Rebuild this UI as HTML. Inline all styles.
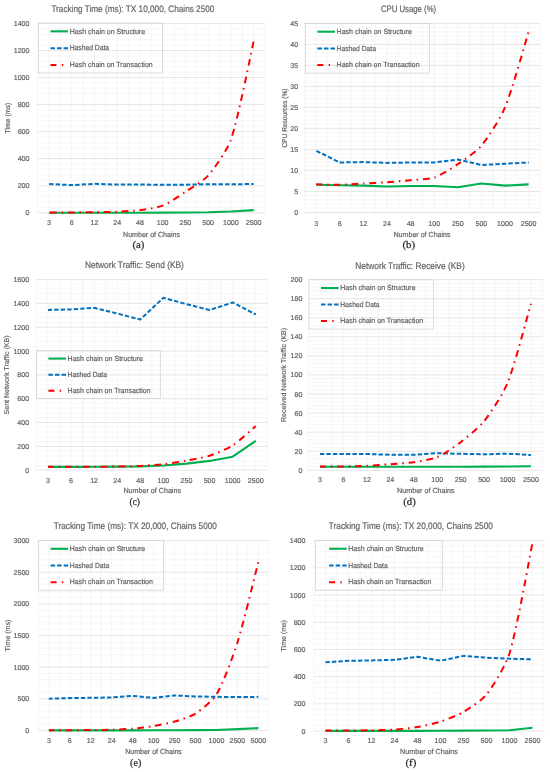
<!DOCTYPE html>
<html><head><meta charset="utf-8"><title>Charts</title>
<style>html,body{margin:0;padding:0;background:#fff;width:550px;height:772px;overflow:hidden}
svg{display:block;font-family:"Liberation Sans",sans-serif;text-rendering:geometricPrecision;will-change:transform;filter:blur(0.3px)}</style></head>
<body>
<svg width="550" height="772" viewBox="0 0 550 772">
<rect width="550" height="772" fill="#fff"/>
<g>
<path d="M37.6,207.39H265M37.6,201.98H265M37.6,196.57H265M37.6,191.17H265M37.6,180.35H265M37.6,174.94H265M37.6,169.53H265M37.6,164.12H265M37.6,153.31H265M37.6,147.9H265M37.6,142.49H265M37.6,137.08H265M37.6,126.26H265M37.6,120.85H265M37.6,115.45H265M37.6,110.04H265M37.6,99.22H265M37.6,93.81H265M37.6,88.4H265M37.6,82.99H265M37.6,72.18H265M37.6,66.77H265M37.6,61.36H265M37.6,55.95H265M37.6,45.13H265M37.6,39.73H265M37.6,34.32H265M37.6,28.91H265" stroke="#F2F2F2" stroke-width="0.6" fill="none"/>
<path d="M48.97,23.5V212.8M71.71,23.5V212.8M94.45,23.5V212.8M117.19,23.5V212.8M139.93,23.5V212.8M162.67,23.5V212.8M185.41,23.5V212.8M208.15,23.5V212.8M230.89,23.5V212.8M253.63,23.5V212.8M37.6,23.5V212.8M60.34,23.5V212.8M83.08,23.5V212.8M105.82,23.5V212.8M128.56,23.5V212.8M151.3,23.5V212.8M174.04,23.5V212.8M196.78,23.5V212.8M219.52,23.5V212.8M242.26,23.5V212.8M265,23.5V212.8" stroke="#F0F0F0" stroke-width="0.6" fill="none"/>
<path d="M37.6,212.8H265M37.6,185.76H265M37.6,158.71H265M37.6,131.67H265M37.6,104.63H265M37.6,77.59H265M37.6,50.54H265M37.6,23.5H265" stroke="#E0E0E0" stroke-width="0.8" fill="none"/>
<text x="51.4" y="11.7" font-size="9.4" font-family="Liberation Sans" fill="#646464" stroke="#646464" stroke-width="0.2" text-anchor="start" textLength="163" lengthAdjust="spacingAndGlyphs">Tracking Time (ms): TX 10,000, Chains 2500</text>
<text x="29.5" y="215.34" font-size="7.1" font-family="Liberation Sans" fill="#646464" stroke="#646464" stroke-width="0.2" text-anchor="end">0</text>
<text x="29.5" y="188.3" font-size="7.1" font-family="Liberation Sans" fill="#646464" stroke="#646464" stroke-width="0.2" text-anchor="end">200</text>
<text x="29.5" y="161.26" font-size="7.1" font-family="Liberation Sans" fill="#646464" stroke="#646464" stroke-width="0.2" text-anchor="end">400</text>
<text x="29.5" y="134.21" font-size="7.1" font-family="Liberation Sans" fill="#646464" stroke="#646464" stroke-width="0.2" text-anchor="end">600</text>
<text x="29.5" y="107.17" font-size="7.1" font-family="Liberation Sans" fill="#646464" stroke="#646464" stroke-width="0.2" text-anchor="end">800</text>
<text x="29.5" y="80.13" font-size="7.1" font-family="Liberation Sans" fill="#646464" stroke="#646464" stroke-width="0.2" text-anchor="end">1000</text>
<text x="29.5" y="53.08" font-size="7.1" font-family="Liberation Sans" fill="#646464" stroke="#646464" stroke-width="0.2" text-anchor="end">1200</text>
<text x="29.5" y="26.04" font-size="7.1" font-family="Liberation Sans" fill="#646464" stroke="#646464" stroke-width="0.2" text-anchor="end">1400</text>
<text x="48.97" y="225.04" font-size="7.1" font-family="Liberation Sans" fill="#646464" stroke="#646464" stroke-width="0.2" text-anchor="middle">3</text>
<text x="71.71" y="225.04" font-size="7.1" font-family="Liberation Sans" fill="#646464" stroke="#646464" stroke-width="0.2" text-anchor="middle">6</text>
<text x="94.45" y="225.04" font-size="7.1" font-family="Liberation Sans" fill="#646464" stroke="#646464" stroke-width="0.2" text-anchor="middle">12</text>
<text x="117.19" y="225.04" font-size="7.1" font-family="Liberation Sans" fill="#646464" stroke="#646464" stroke-width="0.2" text-anchor="middle">24</text>
<text x="139.93" y="225.04" font-size="7.1" font-family="Liberation Sans" fill="#646464" stroke="#646464" stroke-width="0.2" text-anchor="middle">48</text>
<text x="162.67" y="225.04" font-size="7.1" font-family="Liberation Sans" fill="#646464" stroke="#646464" stroke-width="0.2" text-anchor="middle">100</text>
<text x="185.41" y="225.04" font-size="7.1" font-family="Liberation Sans" fill="#646464" stroke="#646464" stroke-width="0.2" text-anchor="middle">250</text>
<text x="208.15" y="225.04" font-size="7.1" font-family="Liberation Sans" fill="#646464" stroke="#646464" stroke-width="0.2" text-anchor="middle">500</text>
<text x="230.89" y="225.04" font-size="7.1" font-family="Liberation Sans" fill="#646464" stroke="#646464" stroke-width="0.2" text-anchor="middle">1000</text>
<text x="253.63" y="225.04" font-size="7.1" font-family="Liberation Sans" fill="#646464" stroke="#646464" stroke-width="0.2" text-anchor="middle">2500</text>
<g transform="translate(10.31,118.15) rotate(-90)"><text x="0" y="0" font-size="7" font-family="Liberation Sans" fill="#646464" stroke="#646464" stroke-width="0.2" text-anchor="middle" textLength="30.7" lengthAdjust="spacingAndGlyphs">Time (ms)</text></g>
<text x="123.1" y="237.05" font-size="7.4" font-family="Liberation Sans" fill="#646464" stroke="#646464" stroke-width="0.2" text-anchor="start" textLength="56.9" lengthAdjust="spacingAndGlyphs">Number of Chains</text>
<text x="132.4" y="247.7" font-size="10.2" font-family="Liberation Serif" fill="#262626" stroke="#262626" stroke-width="0.2" text-anchor="start" textLength="12" lengthAdjust="spacingAndGlyphs" style="stroke-width:0.22px">(a)</text>
<rect x="38.5" y="23" width="124" height="50" fill="none" stroke="#D0D0D0" stroke-width="0.7"/>
<path d="M50.5,31.35H68.1" stroke="#00B050" stroke-width="2.1" fill="none"/>
<text x="69.7" y="33.6" font-size="7.4" font-family="Liberation Sans" fill="#646464" stroke="#646464" stroke-width="0.2" text-anchor="start" textLength="75.4" lengthAdjust="spacingAndGlyphs">Hash chain on Structure</text>
<path d="M50.5,48.15H68.1" stroke="#0070C0" stroke-width="2" stroke-dasharray="4.5 2.05" fill="none"/>
<text x="69.7" y="50.4" font-size="7.4" font-family="Liberation Sans" fill="#646464" stroke="#646464" stroke-width="0.2" text-anchor="start" textLength="39.4" lengthAdjust="spacingAndGlyphs">Hashed Data</text>
<path d="M50.5,64.9H68.1" stroke="#FF0000" stroke-width="2" stroke-dasharray="6 5.3 1.4 5.3" fill="none"/>
<text x="69.7" y="67.15" font-size="7.4" font-family="Liberation Sans" fill="#646464" stroke="#646464" stroke-width="0.2" text-anchor="start" textLength="83" lengthAdjust="spacingAndGlyphs">Hash chain on Transaction</text>
<path d="M48.97,212.8 L71.71,212.8 L94.45,212.8 L117.19,212.8 L139.93,212.8 L162.67,212.66 L185.41,212.53 L208.15,212.26 L230.89,211.45 L253.63,210.1" fill="none" stroke="#00B050" stroke-width="2.1" stroke-linejoin="round"/>
<path id="b0" d="M48.97,184 L71.71,185.08 L94.45,183.86 L117.19,184.54 L139.93,184.54 L162.67,184.81 L185.41,184.68 L208.15,184.27 L230.89,184.27 L253.63,184" fill="none" stroke="#0070C0" stroke-width="2" stroke-dasharray="4.4 2.12" stroke-dashoffset="-0.17" stroke-linejoin="round"/>
<path id="r0" d="M48.97,212.53 C51.7,212.51 66.25,212.43 71.71,212.39 C77.17,212.36 88.99,212.34 94.45,212.26 C99.91,212.18 111.74,211.98 117.19,211.72 C122.65,211.46 134.52,210.82 139.93,210.1 C145.43,209.36 157.59,207.67 162.67,205.63 C168.5,203.29 180.09,195.36 185.41,191.84 C191,188.15 203.82,180.58 208.15,175.62 C214.73,168.08 227.66,149.32 230.89,139.78 C238.57,117.12 250.9,53.28 253.63,41.48" fill="none" stroke="#FF0000" stroke-width="2" stroke-dasharray="6.8 4.75 1.6 4.75" stroke-dashoffset="16.85" stroke-linejoin="round"/>
</g>
<g>
<path d="M304.4,208.3H540.4M304.4,204.1H540.4M304.4,199.89H540.4M304.4,195.69H540.4M304.4,187.29H540.4M304.4,183.08H540.4M304.4,178.88H540.4M304.4,174.68H540.4M304.4,166.28H540.4M304.4,162.07H540.4M304.4,157.87H540.4M304.4,153.67H540.4M304.4,145.26H540.4M304.4,141.06H540.4M304.4,136.86H540.4M304.4,132.66H540.4M304.4,124.25H540.4M304.4,120.05H540.4M304.4,115.85H540.4M304.4,111.65H540.4M304.4,103.24H540.4M304.4,99.04H540.4M304.4,94.84H540.4M304.4,90.64H540.4M304.4,82.23H540.4M304.4,78.03H540.4M304.4,73.83H540.4M304.4,69.62H540.4M304.4,61.22H540.4M304.4,57.02H540.4M304.4,52.82H540.4M304.4,48.61H540.4M304.4,40.21H540.4M304.4,36.01H540.4M304.4,31.8H540.4M304.4,27.6H540.4" stroke="#F2F2F2" stroke-width="0.6" fill="none"/>
<path d="M316.2,23.4V212.5M339.8,23.4V212.5M363.4,23.4V212.5M387,23.4V212.5M410.6,23.4V212.5M434.2,23.4V212.5M457.8,23.4V212.5M481.4,23.4V212.5M505,23.4V212.5M528.6,23.4V212.5M304.4,23.4V212.5M328,23.4V212.5M351.6,23.4V212.5M375.2,23.4V212.5M398.8,23.4V212.5M422.4,23.4V212.5M446,23.4V212.5M469.6,23.4V212.5M493.2,23.4V212.5M516.8,23.4V212.5M540.4,23.4V212.5" stroke="#F0F0F0" stroke-width="0.6" fill="none"/>
<path d="M304.4,212.5H540.4M304.4,191.49H540.4M304.4,170.48H540.4M304.4,149.47H540.4M304.4,128.46H540.4M304.4,107.44H540.4M304.4,86.43H540.4M304.4,65.42H540.4M304.4,44.41H540.4M304.4,23.4H540.4" stroke="#E0E0E0" stroke-width="0.8" fill="none"/>
<text x="380.9" y="12" font-size="9.4" font-family="Liberation Sans" fill="#646464" stroke="#646464" stroke-width="0.2" text-anchor="start" textLength="55.3" lengthAdjust="spacingAndGlyphs">CPU Usage (%)</text>
<text x="298.2" y="215.04" font-size="7.1" font-family="Liberation Sans" fill="#646464" stroke="#646464" stroke-width="0.2" text-anchor="end">0</text>
<text x="298.2" y="194.03" font-size="7.1" font-family="Liberation Sans" fill="#646464" stroke="#646464" stroke-width="0.2" text-anchor="end">5</text>
<text x="298.2" y="173.02" font-size="7.1" font-family="Liberation Sans" fill="#646464" stroke="#646464" stroke-width="0.2" text-anchor="end">10</text>
<text x="298.2" y="152.01" font-size="7.1" font-family="Liberation Sans" fill="#646464" stroke="#646464" stroke-width="0.2" text-anchor="end">15</text>
<text x="298.2" y="131" font-size="7.1" font-family="Liberation Sans" fill="#646464" stroke="#646464" stroke-width="0.2" text-anchor="end">20</text>
<text x="298.2" y="109.99" font-size="7.1" font-family="Liberation Sans" fill="#646464" stroke="#646464" stroke-width="0.2" text-anchor="end">25</text>
<text x="298.2" y="88.98" font-size="7.1" font-family="Liberation Sans" fill="#646464" stroke="#646464" stroke-width="0.2" text-anchor="end">30</text>
<text x="298.2" y="67.96" font-size="7.1" font-family="Liberation Sans" fill="#646464" stroke="#646464" stroke-width="0.2" text-anchor="end">35</text>
<text x="298.2" y="46.95" font-size="7.1" font-family="Liberation Sans" fill="#646464" stroke="#646464" stroke-width="0.2" text-anchor="end">40</text>
<text x="298.2" y="25.94" font-size="7.1" font-family="Liberation Sans" fill="#646464" stroke="#646464" stroke-width="0.2" text-anchor="end">45</text>
<text x="316.2" y="225.74" font-size="7.1" font-family="Liberation Sans" fill="#646464" stroke="#646464" stroke-width="0.2" text-anchor="middle">3</text>
<text x="339.8" y="225.74" font-size="7.1" font-family="Liberation Sans" fill="#646464" stroke="#646464" stroke-width="0.2" text-anchor="middle">6</text>
<text x="363.4" y="225.74" font-size="7.1" font-family="Liberation Sans" fill="#646464" stroke="#646464" stroke-width="0.2" text-anchor="middle">12</text>
<text x="387" y="225.74" font-size="7.1" font-family="Liberation Sans" fill="#646464" stroke="#646464" stroke-width="0.2" text-anchor="middle">24</text>
<text x="410.6" y="225.74" font-size="7.1" font-family="Liberation Sans" fill="#646464" stroke="#646464" stroke-width="0.2" text-anchor="middle">48</text>
<text x="434.2" y="225.74" font-size="7.1" font-family="Liberation Sans" fill="#646464" stroke="#646464" stroke-width="0.2" text-anchor="middle">100</text>
<text x="457.8" y="225.74" font-size="7.1" font-family="Liberation Sans" fill="#646464" stroke="#646464" stroke-width="0.2" text-anchor="middle">250</text>
<text x="481.4" y="225.74" font-size="7.1" font-family="Liberation Sans" fill="#646464" stroke="#646464" stroke-width="0.2" text-anchor="middle">500</text>
<text x="505" y="225.74" font-size="7.1" font-family="Liberation Sans" fill="#646464" stroke="#646464" stroke-width="0.2" text-anchor="middle">1000</text>
<text x="528.6" y="225.74" font-size="7.1" font-family="Liberation Sans" fill="#646464" stroke="#646464" stroke-width="0.2" text-anchor="middle">2500</text>
<g transform="translate(286.51,117.95) rotate(-90)"><text x="0" y="0" font-size="7" font-family="Liberation Sans" fill="#646464" stroke="#646464" stroke-width="0.2" text-anchor="middle" textLength="59" lengthAdjust="spacingAndGlyphs">CPU Resources (%)</text></g>
<text x="393.5" y="237.35" font-size="7.4" font-family="Liberation Sans" fill="#646464" stroke="#646464" stroke-width="0.2" text-anchor="start" textLength="57.1" lengthAdjust="spacingAndGlyphs">Number of Chains</text>
<text x="402.4" y="247.7" font-size="10.2" font-family="Liberation Serif" fill="#262626" stroke="#262626" stroke-width="0.2" text-anchor="start" textLength="12.6" lengthAdjust="spacingAndGlyphs" style="stroke-width:0.22px">(b)</text>
<rect x="305.4" y="23.4" width="124.1" height="49.7" fill="none" stroke="#D0D0D0" stroke-width="0.7"/>
<path d="M317.4,31.7H335" stroke="#00B050" stroke-width="2.1" fill="none"/>
<text x="336.6" y="33.95" font-size="7.4" font-family="Liberation Sans" fill="#646464" stroke="#646464" stroke-width="0.2" text-anchor="start" textLength="75.4" lengthAdjust="spacingAndGlyphs">Hash chain on Structure</text>
<path d="M317.4,48.4H335" stroke="#0070C0" stroke-width="2" stroke-dasharray="4.5 2.05" fill="none"/>
<text x="336.6" y="50.65" font-size="7.4" font-family="Liberation Sans" fill="#646464" stroke="#646464" stroke-width="0.2" text-anchor="start" textLength="39.4" lengthAdjust="spacingAndGlyphs">Hashed Data</text>
<path d="M317.4,65.05H335" stroke="#FF0000" stroke-width="2" stroke-dasharray="6 5.3 1.4 5.3" fill="none"/>
<text x="336.6" y="67.3" font-size="7.4" font-family="Liberation Sans" fill="#646464" stroke="#646464" stroke-width="0.2" text-anchor="start" textLength="83" lengthAdjust="spacingAndGlyphs">Hash chain on Transaction</text>
<path d="M316.2,184.77 L339.8,185.19 L363.4,185.61 L387,186.45 L410.6,186.03 L434.2,186.03 L457.8,187.29 L481.4,183.5 L505,185.61 L528.6,184.35" fill="none" stroke="#00B050" stroke-width="2.1" stroke-linejoin="round"/>
<path id="b1" d="M316.2,150.73 L339.8,162.49 L363.4,162.07 L387,162.91 L410.6,162.49 L434.2,162.49 L457.8,159.55 L481.4,165.01 L505,163.75 L528.6,162.49" fill="none" stroke="#0070C0" stroke-width="2" stroke-dasharray="4.4 2.12" stroke-dashoffset="-0.24" stroke-linejoin="round"/>
<path id="r1" d="M316.2,184.35 C319.03,184.4 334.14,184.87 339.8,184.77 C345.47,184.66 357.74,183.81 363.4,183.5 C369.06,183.2 381.34,182.65 387,182.24 C392.67,181.84 404.94,180.7 410.6,180.14 C416.27,179.59 428.92,179.41 434.2,177.62 C440.25,175.58 452.42,167.82 457.8,164.17 C463.74,160.15 476.87,151.13 481.4,145.68 C488.19,137.52 500.9,117.34 505,107.44 C512.23,90 525.77,40.88 528.6,31.8" fill="none" stroke="#FF0000" stroke-width="2" stroke-dasharray="6.8 4.75 1.6 4.75" stroke-dashoffset="0.45" stroke-linejoin="round"/>
</g>
<g>
<path d="M36.4,465.44H267.3M36.4,460.67H267.3M36.4,455.9H267.3M36.4,451.14H267.3M36.4,441.61H267.3M36.4,436.84H267.3M36.4,432.08H267.3M36.4,427.31H267.3M36.4,417.79H267.3M36.4,413.02H267.3M36.4,408.25H267.3M36.4,403.49H267.3M36.4,393.96H267.3M36.4,389.19H267.3M36.4,384.43H267.3M36.4,379.67H267.3M36.4,370.13H267.3M36.4,365.37H267.3M36.4,360.61H267.3M36.4,355.84H267.3M36.4,346.31H267.3M36.4,341.55H267.3M36.4,336.78H267.3M36.4,332.01H267.3M36.4,322.49H267.3M36.4,317.72H267.3M36.4,312.96H267.3M36.4,308.19H267.3M36.4,298.66H267.3M36.4,293.89H267.3M36.4,289.13H267.3M36.4,284.37H267.3" stroke="#F2F2F2" stroke-width="0.6" fill="none"/>
<path d="M47.95,279.6V470.2M71.03,279.6V470.2M94.12,279.6V470.2M117.22,279.6V470.2M140.31,279.6V470.2M163.4,279.6V470.2M186.49,279.6V470.2M209.58,279.6V470.2M232.66,279.6V470.2M255.75,279.6V470.2M36.4,279.6V470.2M59.49,279.6V470.2M82.58,279.6V470.2M105.67,279.6V470.2M128.76,279.6V470.2M151.85,279.6V470.2M174.94,279.6V470.2M198.03,279.6V470.2M221.12,279.6V470.2M244.21,279.6V470.2M267.3,279.6V470.2" stroke="#F0F0F0" stroke-width="0.6" fill="none"/>
<path d="M36.4,470.2H267.3M36.4,446.38H267.3M36.4,422.55H267.3M36.4,398.73H267.3M36.4,374.9H267.3M36.4,351.08H267.3M36.4,327.25H267.3M36.4,303.43H267.3M36.4,279.6H267.3" stroke="#E0E0E0" stroke-width="0.8" fill="none"/>
<text x="85" y="268.2" font-size="9.4" font-family="Liberation Sans" fill="#646464" stroke="#646464" stroke-width="0.2" text-anchor="start" textLength="98.9" lengthAdjust="spacingAndGlyphs">Network Traffic: Send (KB)</text>
<text x="29.2" y="472.74" font-size="7.1" font-family="Liberation Sans" fill="#646464" stroke="#646464" stroke-width="0.2" text-anchor="end">0</text>
<text x="29.2" y="448.92" font-size="7.1" font-family="Liberation Sans" fill="#646464" stroke="#646464" stroke-width="0.2" text-anchor="end">200</text>
<text x="29.2" y="425.09" font-size="7.1" font-family="Liberation Sans" fill="#646464" stroke="#646464" stroke-width="0.2" text-anchor="end">400</text>
<text x="29.2" y="401.27" font-size="7.1" font-family="Liberation Sans" fill="#646464" stroke="#646464" stroke-width="0.2" text-anchor="end">600</text>
<text x="29.2" y="377.44" font-size="7.1" font-family="Liberation Sans" fill="#646464" stroke="#646464" stroke-width="0.2" text-anchor="end">800</text>
<text x="29.2" y="353.62" font-size="7.1" font-family="Liberation Sans" fill="#646464" stroke="#646464" stroke-width="0.2" text-anchor="end">1000</text>
<text x="29.2" y="329.79" font-size="7.1" font-family="Liberation Sans" fill="#646464" stroke="#646464" stroke-width="0.2" text-anchor="end">1200</text>
<text x="29.2" y="305.97" font-size="7.1" font-family="Liberation Sans" fill="#646464" stroke="#646464" stroke-width="0.2" text-anchor="end">1400</text>
<text x="29.2" y="282.14" font-size="7.1" font-family="Liberation Sans" fill="#646464" stroke="#646464" stroke-width="0.2" text-anchor="end">1600</text>
<text x="47.95" y="482.54" font-size="7.1" font-family="Liberation Sans" fill="#646464" stroke="#646464" stroke-width="0.2" text-anchor="middle">3</text>
<text x="71.03" y="482.54" font-size="7.1" font-family="Liberation Sans" fill="#646464" stroke="#646464" stroke-width="0.2" text-anchor="middle">6</text>
<text x="94.12" y="482.54" font-size="7.1" font-family="Liberation Sans" fill="#646464" stroke="#646464" stroke-width="0.2" text-anchor="middle">12</text>
<text x="117.22" y="482.54" font-size="7.1" font-family="Liberation Sans" fill="#646464" stroke="#646464" stroke-width="0.2" text-anchor="middle">24</text>
<text x="140.31" y="482.54" font-size="7.1" font-family="Liberation Sans" fill="#646464" stroke="#646464" stroke-width="0.2" text-anchor="middle">48</text>
<text x="163.4" y="482.54" font-size="7.1" font-family="Liberation Sans" fill="#646464" stroke="#646464" stroke-width="0.2" text-anchor="middle">100</text>
<text x="186.49" y="482.54" font-size="7.1" font-family="Liberation Sans" fill="#646464" stroke="#646464" stroke-width="0.2" text-anchor="middle">250</text>
<text x="209.58" y="482.54" font-size="7.1" font-family="Liberation Sans" fill="#646464" stroke="#646464" stroke-width="0.2" text-anchor="middle">500</text>
<text x="232.66" y="482.54" font-size="7.1" font-family="Liberation Sans" fill="#646464" stroke="#646464" stroke-width="0.2" text-anchor="middle">1000</text>
<text x="255.75" y="482.54" font-size="7.1" font-family="Liberation Sans" fill="#646464" stroke="#646464" stroke-width="0.2" text-anchor="middle">2500</text>
<g transform="translate(9.01,374.9) rotate(-90)"><text x="0" y="0" font-size="7" font-family="Liberation Sans" fill="#646464" stroke="#646464" stroke-width="0.2" text-anchor="middle" textLength="79" lengthAdjust="spacingAndGlyphs">Sent Network Traffic (KB)</text></g>
<text x="123.4" y="493.05" font-size="7.4" font-family="Liberation Sans" fill="#646464" stroke="#646464" stroke-width="0.2" text-anchor="start" textLength="57.6" lengthAdjust="spacingAndGlyphs">Number of Chains</text>
<text x="129.6" y="504.6" font-size="10.2" font-family="Liberation Serif" fill="#262626" stroke="#262626" stroke-width="0.2" text-anchor="start" textLength="10.4" lengthAdjust="spacingAndGlyphs" style="stroke-width:0.22px">(c)</text>
<rect x="36.4" y="350.6" width="123.9" height="47.8" fill="none" stroke="#D0D0D0" stroke-width="0.7"/>
<path d="M48.4,358.58H66" stroke="#00B050" stroke-width="2.1" fill="none"/>
<text x="67.6" y="360.83" font-size="7.4" font-family="Liberation Sans" fill="#646464" stroke="#646464" stroke-width="0.2" text-anchor="start" textLength="75.4" lengthAdjust="spacingAndGlyphs">Hash chain on Structure</text>
<path d="M48.4,374.64H66" stroke="#0070C0" stroke-width="2" stroke-dasharray="4.5 2.05" fill="none"/>
<text x="67.6" y="376.89" font-size="7.4" font-family="Liberation Sans" fill="#646464" stroke="#646464" stroke-width="0.2" text-anchor="start" textLength="39.4" lengthAdjust="spacingAndGlyphs">Hashed Data</text>
<path d="M48.4,390.66H66" stroke="#FF0000" stroke-width="2" stroke-dasharray="6 5.3 1.4 5.3" fill="none"/>
<text x="67.6" y="392.91" font-size="7.4" font-family="Liberation Sans" fill="#646464" stroke="#646464" stroke-width="0.2" text-anchor="start" textLength="83" lengthAdjust="spacingAndGlyphs">Hash chain on Transaction</text>
<path d="M47.95,466.86 L71.03,466.86 L94.12,466.75 L117.22,466.63 L140.31,466.39 L163.4,465.44 L186.49,463.65 L209.58,460.91 L232.66,456.74 L255.75,440.9" fill="none" stroke="#00B050" stroke-width="2.1" stroke-linejoin="round"/>
<path id="b2" d="M47.95,309.98 L71.03,309.38 L94.12,307.83 L117.22,313.55 L140.31,319.51 L163.4,297.83 L186.49,304.14 L209.58,309.98 L232.66,302.47 L255.75,314.5" fill="none" stroke="#0070C0" stroke-width="2" stroke-dasharray="4.4 2.12" stroke-dashoffset="0.3" stroke-linejoin="round"/>
<path id="r2" d="M47.95,466.86 C50.72,466.86 65.49,466.88 71.03,466.86 C76.58,466.85 88.58,466.79 94.12,466.75 C99.67,466.7 111.67,466.61 117.22,466.51 C122.76,466.41 134.77,466.18 140.31,465.91 C145.85,465.64 157.88,464.87 163.4,464.24 C168.96,463.61 180.97,461.68 186.49,460.67 C192.05,459.65 204.23,457.55 209.58,455.79 C215.31,453.89 227.6,448.67 232.66,445.42 C238.69,441.56 252.98,428.44 255.75,426.12" fill="none" stroke="#FF0000" stroke-width="2" stroke-dasharray="6.8 4.75 1.6 4.75" stroke-dashoffset="0.9" stroke-linejoin="round"/>
</g>
<g>
<path d="M308.3,466.49H542.7M308.3,462.67H542.7M308.3,458.86H542.7M308.3,455.04H542.7M308.3,447.42H542.7M308.3,443.6H542.7M308.3,439.79H542.7M308.3,435.97H542.7M308.3,428.35H542.7M308.3,424.53H542.7M308.3,420.72H542.7M308.3,416.9H542.7M308.3,409.28H542.7M308.3,405.46H542.7M308.3,401.65H542.7M308.3,397.83H542.7M308.3,390.21H542.7M308.3,386.39H542.7M308.3,382.58H542.7M308.3,378.76H542.7M308.3,371.14H542.7M308.3,367.32H542.7M308.3,363.51H542.7M308.3,359.69H542.7M308.3,352.07H542.7M308.3,348.25H542.7M308.3,344.44H542.7M308.3,340.62H542.7M308.3,333H542.7M308.3,329.18H542.7M308.3,325.37H542.7M308.3,321.55H542.7M308.3,313.93H542.7M308.3,310.11H542.7M308.3,306.3H542.7M308.3,302.48H542.7M308.3,294.86H542.7M308.3,291.04H542.7M308.3,287.23H542.7M308.3,283.41H542.7" stroke="#F2F2F2" stroke-width="0.6" fill="none"/>
<path d="M320.02,279.6V470.3M343.46,279.6V470.3M366.9,279.6V470.3M390.34,279.6V470.3M413.78,279.6V470.3M437.22,279.6V470.3M460.66,279.6V470.3M484.1,279.6V470.3M507.54,279.6V470.3M530.98,279.6V470.3M308.3,279.6V470.3M331.74,279.6V470.3M355.18,279.6V470.3M378.62,279.6V470.3M402.06,279.6V470.3M425.5,279.6V470.3M448.94,279.6V470.3M472.38,279.6V470.3M495.82,279.6V470.3M519.26,279.6V470.3M542.7,279.6V470.3" stroke="#F0F0F0" stroke-width="0.6" fill="none"/>
<path d="M308.3,470.3H542.7M308.3,451.23H542.7M308.3,432.16H542.7M308.3,413.09H542.7M308.3,394.02H542.7M308.3,374.95H542.7M308.3,355.88H542.7M308.3,336.81H542.7M308.3,317.74H542.7M308.3,298.67H542.7M308.3,279.6H542.7" stroke="#E0E0E0" stroke-width="0.8" fill="none"/>
<text x="355.3" y="269" font-size="9.4" font-family="Liberation Sans" fill="#646464" stroke="#646464" stroke-width="0.2" text-anchor="start" textLength="109.4" lengthAdjust="spacingAndGlyphs">Network Traffic: Receive (KB)</text>
<text x="302.4" y="472.84" font-size="7.1" font-family="Liberation Sans" fill="#646464" stroke="#646464" stroke-width="0.2" text-anchor="end">0</text>
<text x="302.4" y="453.77" font-size="7.1" font-family="Liberation Sans" fill="#646464" stroke="#646464" stroke-width="0.2" text-anchor="end">20</text>
<text x="302.4" y="434.7" font-size="7.1" font-family="Liberation Sans" fill="#646464" stroke="#646464" stroke-width="0.2" text-anchor="end">40</text>
<text x="302.4" y="415.63" font-size="7.1" font-family="Liberation Sans" fill="#646464" stroke="#646464" stroke-width="0.2" text-anchor="end">60</text>
<text x="302.4" y="396.56" font-size="7.1" font-family="Liberation Sans" fill="#646464" stroke="#646464" stroke-width="0.2" text-anchor="end">80</text>
<text x="302.4" y="377.49" font-size="7.1" font-family="Liberation Sans" fill="#646464" stroke="#646464" stroke-width="0.2" text-anchor="end">100</text>
<text x="302.4" y="358.42" font-size="7.1" font-family="Liberation Sans" fill="#646464" stroke="#646464" stroke-width="0.2" text-anchor="end">120</text>
<text x="302.4" y="339.35" font-size="7.1" font-family="Liberation Sans" fill="#646464" stroke="#646464" stroke-width="0.2" text-anchor="end">140</text>
<text x="302.4" y="320.28" font-size="7.1" font-family="Liberation Sans" fill="#646464" stroke="#646464" stroke-width="0.2" text-anchor="end">160</text>
<text x="302.4" y="301.21" font-size="7.1" font-family="Liberation Sans" fill="#646464" stroke="#646464" stroke-width="0.2" text-anchor="end">180</text>
<text x="302.4" y="282.14" font-size="7.1" font-family="Liberation Sans" fill="#646464" stroke="#646464" stroke-width="0.2" text-anchor="end">200</text>
<text x="320.02" y="481.84" font-size="7.1" font-family="Liberation Sans" fill="#646464" stroke="#646464" stroke-width="0.2" text-anchor="middle">3</text>
<text x="343.46" y="481.84" font-size="7.1" font-family="Liberation Sans" fill="#646464" stroke="#646464" stroke-width="0.2" text-anchor="middle">6</text>
<text x="366.9" y="481.84" font-size="7.1" font-family="Liberation Sans" fill="#646464" stroke="#646464" stroke-width="0.2" text-anchor="middle">12</text>
<text x="390.34" y="481.84" font-size="7.1" font-family="Liberation Sans" fill="#646464" stroke="#646464" stroke-width="0.2" text-anchor="middle">24</text>
<text x="413.78" y="481.84" font-size="7.1" font-family="Liberation Sans" fill="#646464" stroke="#646464" stroke-width="0.2" text-anchor="middle">48</text>
<text x="437.22" y="481.84" font-size="7.1" font-family="Liberation Sans" fill="#646464" stroke="#646464" stroke-width="0.2" text-anchor="middle">100</text>
<text x="460.66" y="481.84" font-size="7.1" font-family="Liberation Sans" fill="#646464" stroke="#646464" stroke-width="0.2" text-anchor="middle">250</text>
<text x="484.1" y="481.84" font-size="7.1" font-family="Liberation Sans" fill="#646464" stroke="#646464" stroke-width="0.2" text-anchor="middle">500</text>
<text x="507.54" y="481.84" font-size="7.1" font-family="Liberation Sans" fill="#646464" stroke="#646464" stroke-width="0.2" text-anchor="middle">1000</text>
<text x="530.98" y="481.84" font-size="7.1" font-family="Liberation Sans" fill="#646464" stroke="#646464" stroke-width="0.2" text-anchor="middle">2500</text>
<g transform="translate(285.71,374.95) rotate(-90)"><text x="0" y="0" font-size="7" font-family="Liberation Sans" fill="#646464" stroke="#646464" stroke-width="0.2" text-anchor="middle" textLength="94.2" lengthAdjust="spacingAndGlyphs">Received Network Traffic (KB)</text></g>
<text x="397.1" y="492.55" font-size="7.4" font-family="Liberation Sans" fill="#646464" stroke="#646464" stroke-width="0.2" text-anchor="start" textLength="57.5" lengthAdjust="spacingAndGlyphs">Number of Chains</text>
<text x="403.3" y="504.7" font-size="10.2" font-family="Liberation Serif" fill="#262626" stroke="#262626" stroke-width="0.2" text-anchor="start" textLength="12.5" lengthAdjust="spacingAndGlyphs" style="stroke-width:0.22px">(d)</text>
<rect x="309" y="279.8" width="124.5" height="49.3" fill="none" stroke="#D0D0D0" stroke-width="0.7"/>
<path d="M321,288.03H338.6" stroke="#00B050" stroke-width="2.1" fill="none"/>
<text x="340.2" y="290.28" font-size="7.4" font-family="Liberation Sans" fill="#646464" stroke="#646464" stroke-width="0.2" text-anchor="start" textLength="75.4" lengthAdjust="spacingAndGlyphs">Hash chain on Structure</text>
<path d="M321,304.6H338.6" stroke="#0070C0" stroke-width="2" stroke-dasharray="4.5 2.05" fill="none"/>
<text x="340.2" y="306.85" font-size="7.4" font-family="Liberation Sans" fill="#646464" stroke="#646464" stroke-width="0.2" text-anchor="start" textLength="39.4" lengthAdjust="spacingAndGlyphs">Hashed Data</text>
<path d="M321,321.11H338.6" stroke="#FF0000" stroke-width="2" stroke-dasharray="6 5.3 1.4 5.3" fill="none"/>
<text x="340.2" y="323.36" font-size="7.4" font-family="Liberation Sans" fill="#646464" stroke="#646464" stroke-width="0.2" text-anchor="start" textLength="83" lengthAdjust="spacingAndGlyphs">Hash chain on Transaction</text>
<path d="M320.02,466.77 L343.46,466.77 L366.9,466.77 L390.34,466.77 L413.78,466.77 L437.22,466.77 L460.66,466.68 L484.1,466.58 L507.54,466.49 L530.98,466.3" fill="none" stroke="#00B050" stroke-width="2.1" stroke-linejoin="round"/>
<path id="b3" d="M320.02,454 L343.46,454 L366.9,454 L390.34,454.76 L413.78,454.76 L437.22,453.14 L460.66,453.8 L484.1,454.28 L507.54,453.61 L530.98,455.04" fill="none" stroke="#0070C0" stroke-width="2" stroke-dasharray="4.4 2.12" stroke-dashoffset="0.15" stroke-linejoin="round"/>
<path id="r3" d="M320.02,466.49 C322.83,466.49 337.84,466.58 343.46,466.49 C349.09,466.39 361.28,466 366.9,465.72 C372.53,465.45 384.72,464.62 390.34,464.2 C395.97,463.77 408.21,463.03 413.78,462.2 C419.46,461.34 432.01,459.37 437.22,457.14 C443.26,454.56 455.38,446.22 460.66,442.17 C466.63,437.59 479.46,427.05 484.1,421.19 C490.71,412.86 503.59,392.95 507.54,383.05 C514.84,364.76 528.17,313.24 530.98,303.72" fill="none" stroke="#FF0000" stroke-width="2" stroke-dasharray="6.8 4.75 1.6 4.75" stroke-dashoffset="0.8" stroke-linejoin="round"/>
</g>
<g>
<path d="M38.4,724.07H268.8M38.4,717.75H268.8M38.4,711.42H268.8M38.4,705.09H268.8M38.4,692.44H268.8M38.4,686.11H268.8M38.4,679.79H268.8M38.4,673.46H268.8M38.4,660.81H268.8M38.4,654.48H268.8M38.4,648.15H268.8M38.4,641.83H268.8M38.4,629.17H268.8M38.4,622.85H268.8M38.4,616.52H268.8M38.4,610.19H268.8M38.4,597.54H268.8M38.4,591.21H268.8M38.4,584.89H268.8M38.4,578.56H268.8M38.4,565.91H268.8M38.4,559.58H268.8M38.4,553.25H268.8M38.4,546.93H268.8" stroke="#F2F2F2" stroke-width="0.6" fill="none"/>
<path d="M48.87,540.6V730.4M69.82,540.6V730.4M90.76,540.6V730.4M111.71,540.6V730.4M132.65,540.6V730.4M153.6,540.6V730.4M174.55,540.6V730.4M195.49,540.6V730.4M216.44,540.6V730.4M237.38,540.6V730.4M258.33,540.6V730.4M38.4,540.6V730.4M59.35,540.6V730.4M80.29,540.6V730.4M101.24,540.6V730.4M122.18,540.6V730.4M143.13,540.6V730.4M164.07,540.6V730.4M185.02,540.6V730.4M205.96,540.6V730.4M226.91,540.6V730.4M247.85,540.6V730.4M268.8,540.6V730.4" stroke="#F0F0F0" stroke-width="0.6" fill="none"/>
<path d="M38.4,730.4H268.8M38.4,698.77H268.8M38.4,667.13H268.8M38.4,635.5H268.8M38.4,603.87H268.8M38.4,572.23H268.8M38.4,540.6H268.8" stroke="#E0E0E0" stroke-width="0.8" fill="none"/>
<text x="53.8" y="528.8" font-size="9.4" font-family="Liberation Sans" fill="#646464" stroke="#646464" stroke-width="0.2" text-anchor="start" textLength="163.1" lengthAdjust="spacingAndGlyphs">Tracking Time (ms): TX 20,000, Chains 5000</text>
<text x="29.3" y="732.94" font-size="7.1" font-family="Liberation Sans" fill="#646464" stroke="#646464" stroke-width="0.2" text-anchor="end">0</text>
<text x="29.3" y="701.31" font-size="7.1" font-family="Liberation Sans" fill="#646464" stroke="#646464" stroke-width="0.2" text-anchor="end">500</text>
<text x="29.3" y="669.68" font-size="7.1" font-family="Liberation Sans" fill="#646464" stroke="#646464" stroke-width="0.2" text-anchor="end">1000</text>
<text x="29.3" y="638.04" font-size="7.1" font-family="Liberation Sans" fill="#646464" stroke="#646464" stroke-width="0.2" text-anchor="end">1500</text>
<text x="29.3" y="606.41" font-size="7.1" font-family="Liberation Sans" fill="#646464" stroke="#646464" stroke-width="0.2" text-anchor="end">2000</text>
<text x="29.3" y="574.78" font-size="7.1" font-family="Liberation Sans" fill="#646464" stroke="#646464" stroke-width="0.2" text-anchor="end">2500</text>
<text x="29.3" y="543.14" font-size="7.1" font-family="Liberation Sans" fill="#646464" stroke="#646464" stroke-width="0.2" text-anchor="end">3000</text>
<text x="48.87" y="742.94" font-size="7.1" font-family="Liberation Sans" fill="#646464" stroke="#646464" stroke-width="0.2" text-anchor="middle">3</text>
<text x="69.82" y="742.94" font-size="7.1" font-family="Liberation Sans" fill="#646464" stroke="#646464" stroke-width="0.2" text-anchor="middle">6</text>
<text x="90.76" y="742.94" font-size="7.1" font-family="Liberation Sans" fill="#646464" stroke="#646464" stroke-width="0.2" text-anchor="middle">12</text>
<text x="111.71" y="742.94" font-size="7.1" font-family="Liberation Sans" fill="#646464" stroke="#646464" stroke-width="0.2" text-anchor="middle">24</text>
<text x="132.65" y="742.94" font-size="7.1" font-family="Liberation Sans" fill="#646464" stroke="#646464" stroke-width="0.2" text-anchor="middle">48</text>
<text x="153.6" y="742.94" font-size="7.1" font-family="Liberation Sans" fill="#646464" stroke="#646464" stroke-width="0.2" text-anchor="middle">100</text>
<text x="174.55" y="742.94" font-size="7.1" font-family="Liberation Sans" fill="#646464" stroke="#646464" stroke-width="0.2" text-anchor="middle">250</text>
<text x="195.49" y="742.94" font-size="7.1" font-family="Liberation Sans" fill="#646464" stroke="#646464" stroke-width="0.2" text-anchor="middle">500</text>
<text x="216.44" y="742.94" font-size="7.1" font-family="Liberation Sans" fill="#646464" stroke="#646464" stroke-width="0.2" text-anchor="middle">1000</text>
<text x="237.38" y="742.94" font-size="7.1" font-family="Liberation Sans" fill="#646464" stroke="#646464" stroke-width="0.2" text-anchor="middle">2500</text>
<text x="258.33" y="742.94" font-size="7.1" font-family="Liberation Sans" fill="#646464" stroke="#646464" stroke-width="0.2" text-anchor="middle">5000</text>
<g transform="translate(10.01,635.5) rotate(-90)"><text x="0" y="0" font-size="7" font-family="Liberation Sans" fill="#646464" stroke="#646464" stroke-width="0.2" text-anchor="middle" textLength="32" lengthAdjust="spacingAndGlyphs">Time (ms)</text></g>
<text x="125.2" y="753.85" font-size="7.4" font-family="Liberation Sans" fill="#646464" stroke="#646464" stroke-width="0.2" text-anchor="start" textLength="56.7" lengthAdjust="spacingAndGlyphs">Number of Chains</text>
<text x="130" y="766.2" font-size="10.2" font-family="Liberation Serif" fill="#262626" stroke="#262626" stroke-width="0.2" text-anchor="start" textLength="11.3" lengthAdjust="spacingAndGlyphs" style="stroke-width:0.22px">(e)</text>
<rect x="38.6" y="540.5" width="125" height="49.7" fill="none" stroke="#D0D0D0" stroke-width="0.7"/>
<path d="M50.6,548.8H68.2" stroke="#00B050" stroke-width="2.1" fill="none"/>
<text x="69.8" y="551.05" font-size="7.4" font-family="Liberation Sans" fill="#646464" stroke="#646464" stroke-width="0.2" text-anchor="start" textLength="75.4" lengthAdjust="spacingAndGlyphs">Hash chain on Structure</text>
<path d="M50.6,565.5H68.2" stroke="#0070C0" stroke-width="2" stroke-dasharray="4.5 2.05" fill="none"/>
<text x="69.8" y="567.75" font-size="7.4" font-family="Liberation Sans" fill="#646464" stroke="#646464" stroke-width="0.2" text-anchor="start" textLength="39.4" lengthAdjust="spacingAndGlyphs">Hashed Data</text>
<path d="M50.6,582.15H68.2" stroke="#FF0000" stroke-width="2" stroke-dasharray="6 5.3 1.4 5.3" fill="none"/>
<text x="69.8" y="584.4" font-size="7.4" font-family="Liberation Sans" fill="#646464" stroke="#646464" stroke-width="0.2" text-anchor="start" textLength="83" lengthAdjust="spacingAndGlyphs">Hash chain on Transaction</text>
<path d="M48.87,730.34 L69.82,730.34 L90.76,730.34 L111.71,730.34 L132.65,730.34 L153.6,730.27 L174.55,730.21 L195.49,730.15 L216.44,730.02 L237.38,729.13 L258.33,728.12" fill="none" stroke="#00B050" stroke-width="2.1" stroke-linejoin="round"/>
<path id="b4" d="M48.87,698.7 L69.82,698.07 L90.76,697.82 L111.71,697.44 L132.65,695.86 L153.6,697.94 L174.55,695.48 L195.49,696.43 L216.44,696.81 L237.38,697.12 L258.33,696.87" fill="none" stroke="#0070C0" stroke-width="2" stroke-dasharray="4.4 2.12" stroke-dashoffset="0.6" stroke-linejoin="round"/>
<path id="r4" d="M48.87,730.21 C51.39,730.2 64.79,730.16 69.82,730.15 C74.85,730.13 85.74,730.13 90.76,730.08 C95.79,730.04 106.69,729.93 111.71,729.77 C116.74,729.6 127.64,729.14 132.65,728.69 C137.7,728.24 148.61,726.89 153.6,726.03 C158.66,725.17 169.63,723 174.55,721.54 C179.68,720.02 191.05,716.49 195.49,713.63 C201.1,710.03 213.06,700.36 216.44,694.65 C223.12,683.36 233.34,655.55 237.38,642.78 C243.4,623.74 255.81,571.79 258.33,562.11" fill="none" stroke="#FF0000" stroke-width="2" stroke-dasharray="6.8 4.75 1.6 4.75" stroke-dashoffset="1.05" stroke-linejoin="round"/>
</g>
<g>
<path d="M314,725.56H544M314,720.12H544M314,714.68H544M314,709.24H544M314,698.36H544M314,692.92H544M314,687.48H544M314,682.04H544M314,671.16H544M314,665.72H544M314,660.28H544M314,654.84H544M314,643.96H544M314,638.52H544M314,633.08H544M314,627.64H544M314,616.76H544M314,611.32H544M314,605.88H544M314,600.44H544M314,589.56H544M314,584.12H544M314,578.68H544M314,573.24H544M314,562.36H544M314,556.92H544M314,551.48H544M314,546.04H544" stroke="#F2F2F2" stroke-width="0.6" fill="none"/>
<path d="M325.5,540.6V731M348.5,540.6V731M371.5,540.6V731M394.5,540.6V731M417.5,540.6V731M440.5,540.6V731M463.5,540.6V731M486.5,540.6V731M509.5,540.6V731M532.5,540.6V731M314,540.6V731M337,540.6V731M360,540.6V731M383,540.6V731M406,540.6V731M429,540.6V731M452,540.6V731M475,540.6V731M498,540.6V731M521,540.6V731M544,540.6V731" stroke="#F0F0F0" stroke-width="0.6" fill="none"/>
<path d="M314,731H544M314,703.8H544M314,676.6H544M314,649.4H544M314,622.2H544M314,595H544M314,567.8H544M314,540.6H544" stroke="#E0E0E0" stroke-width="0.8" fill="none"/>
<text x="328.8" y="528.8" font-size="9.4" font-family="Liberation Sans" fill="#646464" stroke="#646464" stroke-width="0.2" text-anchor="start" textLength="164.1" lengthAdjust="spacingAndGlyphs">Tracking Time (ms): TX 20,000, Chains 2500</text>
<text x="305.5" y="733.54" font-size="7.1" font-family="Liberation Sans" fill="#646464" stroke="#646464" stroke-width="0.2" text-anchor="end">0</text>
<text x="305.5" y="706.34" font-size="7.1" font-family="Liberation Sans" fill="#646464" stroke="#646464" stroke-width="0.2" text-anchor="end">200</text>
<text x="305.5" y="679.14" font-size="7.1" font-family="Liberation Sans" fill="#646464" stroke="#646464" stroke-width="0.2" text-anchor="end">400</text>
<text x="305.5" y="651.94" font-size="7.1" font-family="Liberation Sans" fill="#646464" stroke="#646464" stroke-width="0.2" text-anchor="end">600</text>
<text x="305.5" y="624.74" font-size="7.1" font-family="Liberation Sans" fill="#646464" stroke="#646464" stroke-width="0.2" text-anchor="end">800</text>
<text x="305.5" y="597.54" font-size="7.1" font-family="Liberation Sans" fill="#646464" stroke="#646464" stroke-width="0.2" text-anchor="end">1000</text>
<text x="305.5" y="570.34" font-size="7.1" font-family="Liberation Sans" fill="#646464" stroke="#646464" stroke-width="0.2" text-anchor="end">1200</text>
<text x="305.5" y="543.14" font-size="7.1" font-family="Liberation Sans" fill="#646464" stroke="#646464" stroke-width="0.2" text-anchor="end">1400</text>
<text x="325.5" y="742.94" font-size="7.1" font-family="Liberation Sans" fill="#646464" stroke="#646464" stroke-width="0.2" text-anchor="middle">3</text>
<text x="348.5" y="742.94" font-size="7.1" font-family="Liberation Sans" fill="#646464" stroke="#646464" stroke-width="0.2" text-anchor="middle">6</text>
<text x="371.5" y="742.94" font-size="7.1" font-family="Liberation Sans" fill="#646464" stroke="#646464" stroke-width="0.2" text-anchor="middle">12</text>
<text x="394.5" y="742.94" font-size="7.1" font-family="Liberation Sans" fill="#646464" stroke="#646464" stroke-width="0.2" text-anchor="middle">24</text>
<text x="417.5" y="742.94" font-size="7.1" font-family="Liberation Sans" fill="#646464" stroke="#646464" stroke-width="0.2" text-anchor="middle">48</text>
<text x="440.5" y="742.94" font-size="7.1" font-family="Liberation Sans" fill="#646464" stroke="#646464" stroke-width="0.2" text-anchor="middle">100</text>
<text x="463.5" y="742.94" font-size="7.1" font-family="Liberation Sans" fill="#646464" stroke="#646464" stroke-width="0.2" text-anchor="middle">250</text>
<text x="486.5" y="742.94" font-size="7.1" font-family="Liberation Sans" fill="#646464" stroke="#646464" stroke-width="0.2" text-anchor="middle">500</text>
<text x="509.5" y="742.94" font-size="7.1" font-family="Liberation Sans" fill="#646464" stroke="#646464" stroke-width="0.2" text-anchor="middle">1000</text>
<text x="532.5" y="742.94" font-size="7.1" font-family="Liberation Sans" fill="#646464" stroke="#646464" stroke-width="0.2" text-anchor="middle">2500</text>
<g transform="translate(285.91,635.8) rotate(-90)"><text x="0" y="0" font-size="7" font-family="Liberation Sans" fill="#646464" stroke="#646464" stroke-width="0.2" text-anchor="middle" textLength="31.3" lengthAdjust="spacingAndGlyphs">Time (ms)</text></g>
<text x="400.1" y="753.85" font-size="7.4" font-family="Liberation Sans" fill="#646464" stroke="#646464" stroke-width="0.2" text-anchor="start" textLength="57.7" lengthAdjust="spacingAndGlyphs">Number of Chains</text>
<text x="405.4" y="765.9" font-size="10.2" font-family="Liberation Serif" fill="#262626" stroke="#262626" stroke-width="0.2" text-anchor="start" textLength="10.9" lengthAdjust="spacingAndGlyphs" style="stroke-width:0.22px">(f)</text>
<rect x="315.3" y="540.4" width="127.4" height="49.9" fill="none" stroke="#D0D0D0" stroke-width="0.7"/>
<path d="M329.1,548.73H346.7" stroke="#00B050" stroke-width="2.1" fill="none"/>
<text x="348.3" y="550.98" font-size="7.4" font-family="Liberation Sans" fill="#646464" stroke="#646464" stroke-width="0.2" text-anchor="start" textLength="75.4" lengthAdjust="spacingAndGlyphs">Hash chain on Structure</text>
<path d="M329.1,565.5H346.7" stroke="#0070C0" stroke-width="2" stroke-dasharray="4.5 2.05" fill="none"/>
<text x="348.3" y="567.75" font-size="7.4" font-family="Liberation Sans" fill="#646464" stroke="#646464" stroke-width="0.2" text-anchor="start" textLength="39.4" lengthAdjust="spacingAndGlyphs">Hashed Data</text>
<path d="M329.1,582.22H346.7" stroke="#FF0000" stroke-width="2" stroke-dasharray="6 5.3 1.4 5.3" fill="none"/>
<text x="348.3" y="584.47" font-size="7.4" font-family="Liberation Sans" fill="#646464" stroke="#646464" stroke-width="0.2" text-anchor="start" textLength="83" lengthAdjust="spacingAndGlyphs">Hash chain on Transaction</text>
<path d="M325.5,730.86 L348.5,730.86 L371.5,730.86 L394.5,730.86 L417.5,730.86 L440.5,730.73 L463.5,730.59 L486.5,730.46 L509.5,730.18 L532.5,727.74" fill="none" stroke="#00B050" stroke-width="2.1" stroke-linejoin="round"/>
<path id="b5" d="M325.5,662.32 L348.5,660.82 L371.5,660.42 L394.5,659.87 L417.5,656.74 L440.5,660.69 L463.5,655.93 L486.5,657.7 L509.5,658.65 L532.5,659.33" fill="none" stroke="#0070C0" stroke-width="2" stroke-dasharray="4.4 2.12" stroke-dashoffset="0.12" stroke-linejoin="round"/>
<path id="r5" d="M325.5,730.59 C328.26,730.58 342.98,730.49 348.5,730.46 C354.02,730.42 365.98,730.42 371.5,730.32 C377.02,730.22 389,730.03 394.5,729.64 C400.04,729.25 412.04,728.01 417.5,727.06 C423.08,726.08 435.13,723.38 440.5,721.62 C446.17,719.76 458.38,714.97 463.5,711.96 C469.42,708.48 482.31,699.88 486.5,694.55 C493.35,685.85 506.26,664.19 509.5,653.48 C517.3,627.73 529.74,555.94 532.5,542.64" fill="none" stroke="#FF0000" stroke-width="2" stroke-dasharray="6.8 4.75 1.6 4.75" stroke-dashoffset="0.7" stroke-linejoin="round"/>
</g>
</svg>
</body></html>
